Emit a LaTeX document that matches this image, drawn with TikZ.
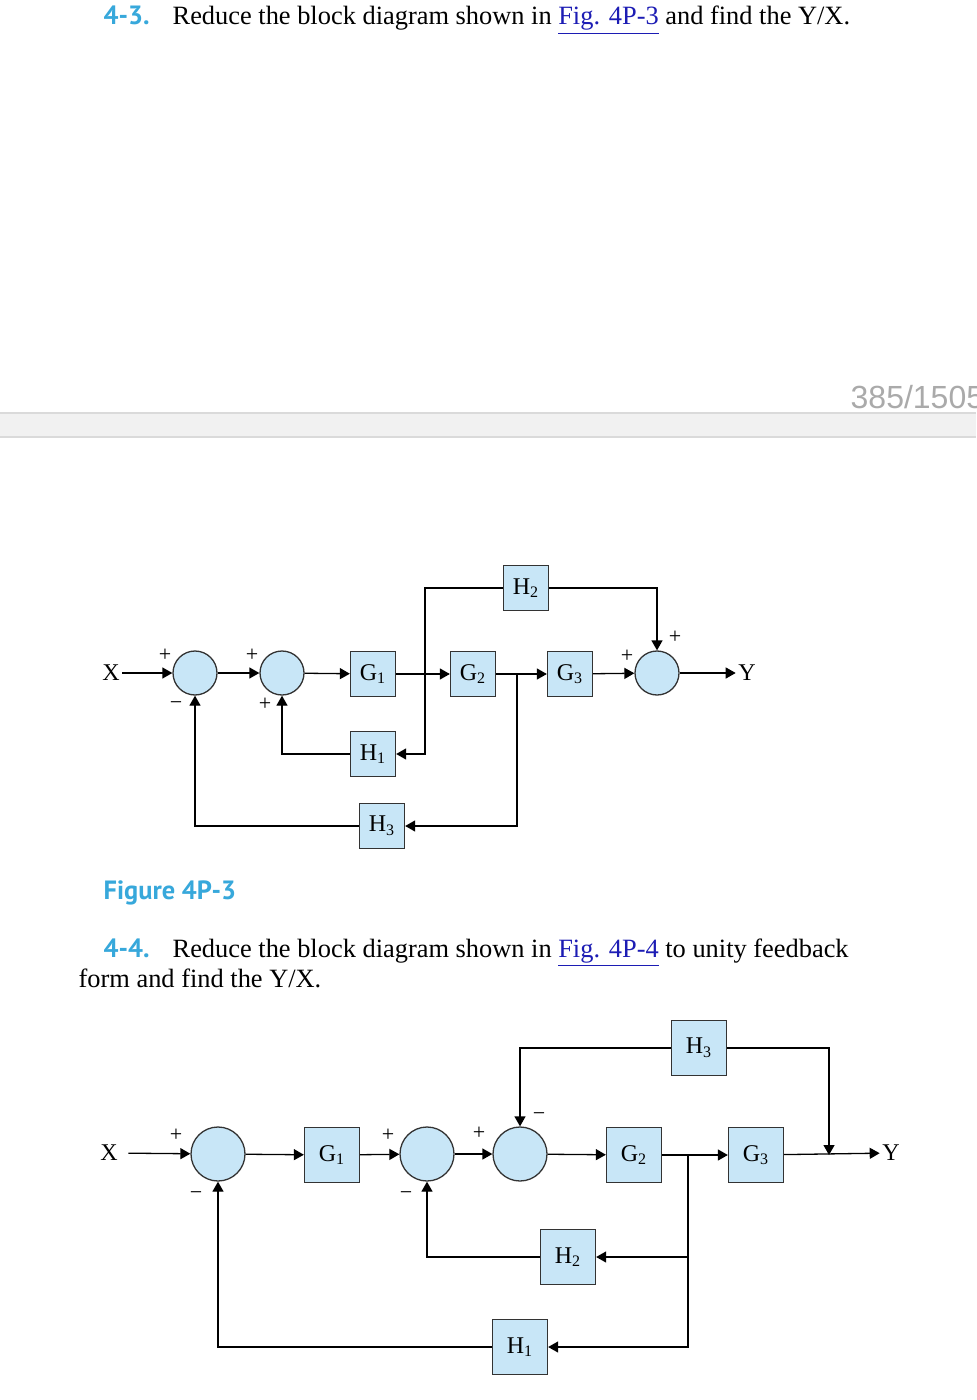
\documentclass[tikz,border=0pt]{standalone}
\usepackage{fontspec}
\setmainfont{Liberation Serif}
\newfontfamily\hdfont{PT Sans}
\newfontfamily\pgfont{Liberation Sans}
\usetikzlibrary{arrows.meta, positioning}
\definecolor{blockfill}{RGB}{200, 230, 247}
\definecolor{headcyan}{RGB}{55, 168, 219}
\definecolor{linkblue}{RGB}{28, 28, 180}
\definecolor{pagegray}{RGB}{170, 170, 170}
\definecolor{bandgray}{RGB}{241, 241, 241}
\definecolor{bandline}{RGB}{218, 218, 218}

\begin{document}
\begin{tikzpicture}[x=0.5pt, y=-0.5pt, line width=0.65pt,
    >={Triangle[length=5pt, width=5.5pt]},
    blk/.style={rectangle, draw=black!80, fill=blockfill, minimum size=22.5pt,
                inner sep=0pt, font=\fontsize{12}{12}\selectfont},
    bigblk/.style={blk, minimum size=27.5pt},
    sumc/.style={circle, draw=black!80, fill=blockfill, minimum size=22pt, inner sep=0pt},
    bigsum/.style={sumc, minimum size=27pt},
    sig/.style={inner sep=0pt, font=\fontsize{11}{11}\selectfont},
    io/.style={inner sep=1pt, font=\fontsize{12}{12}\selectfont},
    txt/.style={anchor=base west, inner sep=0pt, font=\fontsize{13.2}{15}\selectfont},
    head/.style={anchor=base west, inner sep=0pt, text=headcyan,
                 font=\hdfont\bfseries\fontsize{13.2}{15}\selectfont}]

    \useasboundingbox (0,0) rectangle (976,1400);
    \fill[white] (0,0) rectangle (976,1400);

    % Problem text
    \node[head] (n43) at (103,25) {4-3.};
    \node[txt] (q43) at (172,25) {Reduce the block diagram shown in \textcolor{linkblue}{\underline{Fig. 4P-3}} and find the Y/X.};

    % Page break band
    \node[anchor=base west, inner sep=0pt, text=pagegray, font=\pgfont\fontsize{16}{18}\selectfont] (pg) at (850,409) {385/1505};
    \fill[bandgray] (0,413) rectangle (976,437);
    \draw[bandline] (0,413) -- (976,413);
    \draw[bandline] (0,437) -- (976,437);

    % Fig. 4P-3 blocks
    \node[io] (xa) at (111,673) {X};
    \node[sumc] (sa1) at (195,673) {};
    \node[sumc] (sa2) at (282,673) {};
    \node[blk] (ga1) at (373,674) {G\textsubscript{1}};
    \node[blk] (ga2) at (473,674) {G\textsubscript{2}};
    \node[blk] (ga3) at (570,674) {G\textsubscript{3}};
    \node[sumc] (sa3) at (657,673) {};
    \node[io] (ya) at (747,673) {Y};
    \node[blk] (ha2) at (526,588) {H\textsubscript{2}};
    \node[blk] (ha1) at (373,754) {H\textsubscript{1}};
    \node[blk] (ha3) at (382,826) {H\textsubscript{3}};
    \coordinate (ba1) at (425,674);
    \coordinate (ba2) at (517,674);

    % Fig. 4P-3 signs
    \node[sig] (pa1) at (165,655) {+};
    \node[sig] (ma1) at (176,706) {−};
    \node[sig] (pa2) at (252,655) {+};
    \node[sig] (pa3) at (265,704) {+};
    \node[sig] (pa4) at (627,656) {+};
    \node[sig] (pa5) at (675,637) {+};

    % Fig. 4P-3 arrows
    \draw[->] (xa) -- (sa1);
    \draw[->] (sa1) -- (sa2);
    \draw[->] (sa2) -- (ga1);
    \draw[->] (ga1) -- (ga2);
    \draw[->] (ga2) -- (ga3);
    \draw[->] (ga3) -- (sa3);
    \draw[->] (sa3) -- (ya);
    \draw (ba1) |- (ha2);
    \draw[->] (ha2) -| (sa3);
    \draw[->] (ba1) |- (ha1);
    \draw[->] (ha1) -| (sa2);
    \draw[->] (ba2) |- (ha3);
    \draw[->] (ha3) -| (sa1);

    \node[head] (f43) at (103,899) {Figure 4P-3};

    % Problem text
    \node[head] (n44) at (103,957) {4-4.};
    \node[txt] (q44) at (172,957) {Reduce the block diagram shown in \textcolor{linkblue}{\underline{Fig. 4P-4}} to unity feedback};
    \node[txt] (q44b) at (78,987) {form and find the Y/X.};

    % Fig. 4P-4 blocks
    \node[io, inner sep=5pt] (xb) at (109,1153) {X};
    \node[bigsum] (sb1) at (218,1154) {};
    \node[bigblk] (gb1) at (332,1155) {G\textsubscript{1}};
    \node[bigsum] (sb2) at (427,1154) {};
    \node[bigsum] (sb3) at (520,1154) {};
    \node[bigblk] (gb2) at (634,1155) {G\textsubscript{2}};
    \node[bigblk] (gb3) at (756,1155) {G\textsubscript{3}};
    \node[io] (yb) at (891,1153) {Y};
    \node[bigblk] (hb3) at (699,1048) {H\textsubscript{3}};
    \node[bigblk] (hb2) at (568,1257) {H\textsubscript{2}};
    \node[bigblk] (hb1) at (520,1347) {H\textsubscript{1}};
    \coordinate (bb1) at (688,1155);
    \coordinate (jb1) at (829,1155);

    % Fig. 4P-4 signs
    \node[sig] (pb1) at (176,1135) {+};
    \node[sig] (mb1) at (196,1196) {−};
    \node[sig] (pb2) at (388,1135) {+};
    \node[sig] (mb2) at (406,1196) {−};
    \node[sig] (pb3) at (479,1133) {+};
    \node[sig] (mb3) at (539,1117) {−};

    % Fig. 4P-4 arrows
    \draw[->] (xb) -- (sb1);
    \draw[->] (sb1) -- (gb1);
    \draw[->] (gb1) -- (sb2);
    \draw[->] (sb2) -- (sb3);
    \draw[->] (sb3) -- (gb2);
    \draw[->] (gb2) -- (gb3);
    \draw[->] (gb3) -- (yb);
    \draw[->] (hb3) -| (sb3);
    \draw[->] (hb3) -| (jb1);
    \draw[->] (bb1) |- (hb2);
    \draw[->] (hb2) -| (sb2);
    \draw[->] (bb1) |- (hb1);
    \draw[->] (hb1) -| (sb1);
\end{tikzpicture}
\end{document}
